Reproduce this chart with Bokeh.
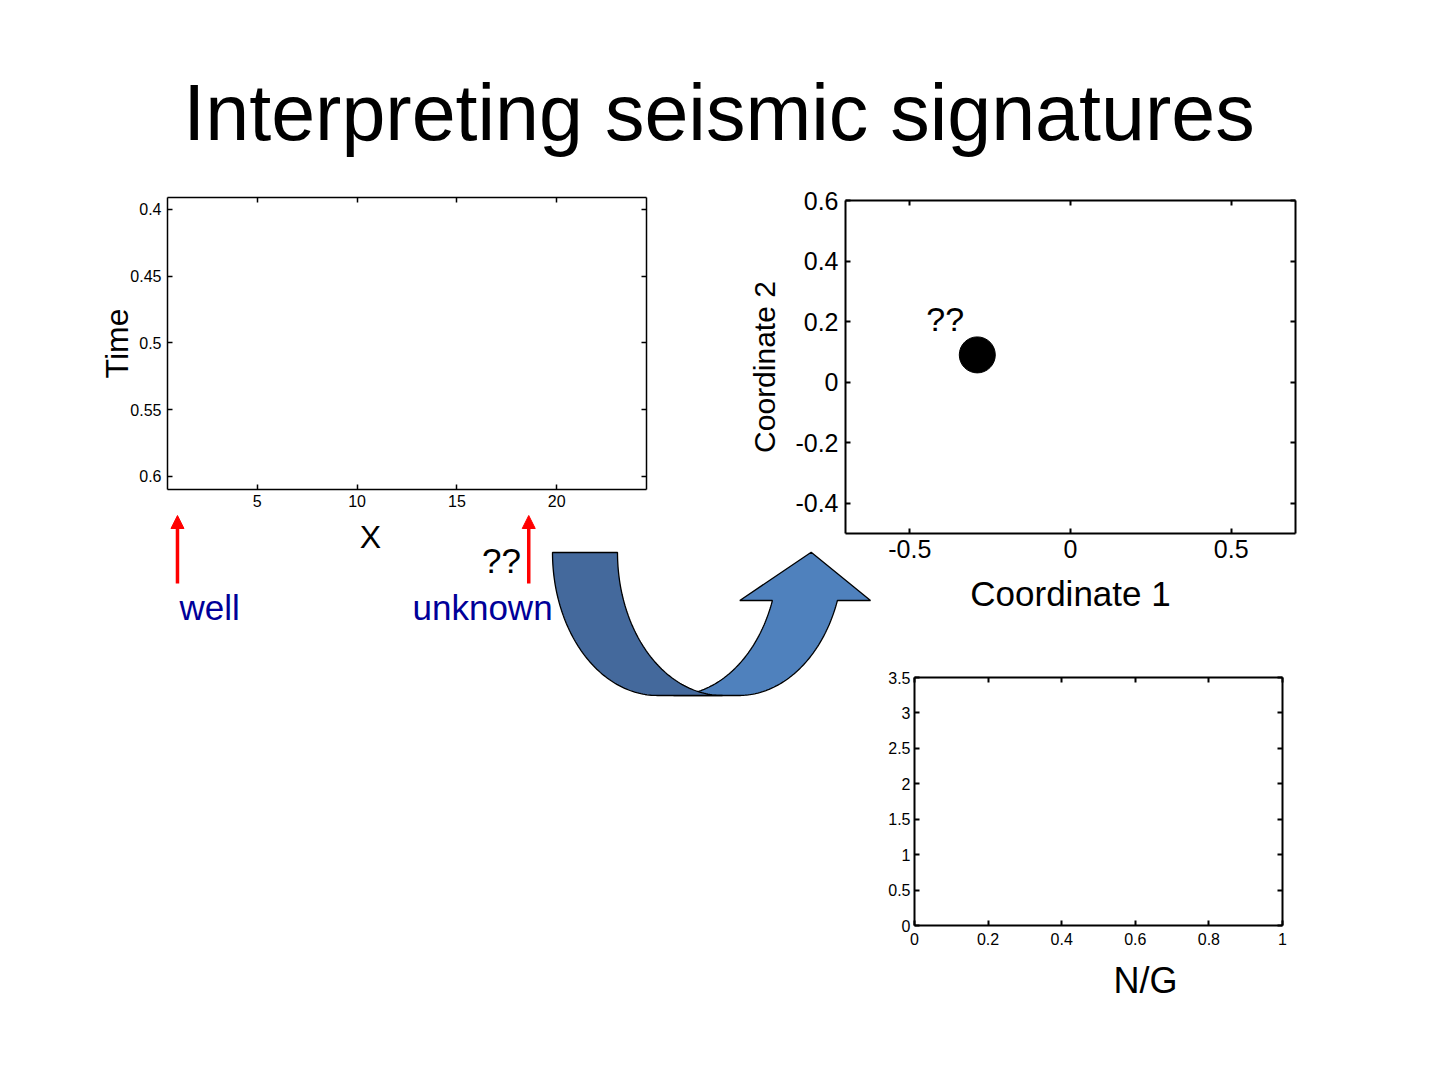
import numpy as np
from bokeh.plotting import figure
from bokeh.models import (Range1d, FixedTicker, LinearAxis, Arrow, NormalHead,
                          ColumnDataSource, GridBox)
from bokeh.core.properties import value
from bokeh.embed import file_html
from bokeh.resources import INLINE

# ---------------- data ----------------
TITLE = "Interpreting seismic signatures"

# panel 1 : seismic section (Time vs X)
P1_XTICKS = [5, 10, 15, 20]
P1_YTICKS = [0.4, 0.45, 0.5, 0.55, 0.6]
P1_XRANGE = (0.5, 24.5)
P1_YRANGE = (0.6098, 0.3912)          # reversed: time grows downward
WELL_X = [1.0]                         # trace index of the well
UNKNOWN_X = [18.6]                     # trace index of the unknown location

# panel 2 : 2-D projection of seismic attributes
P2_XTICKS = [-0.5, 0, 0.5]
P2_YTICKS = [-0.4, -0.2, 0, 0.2, 0.4, 0.6]
P2_XRANGE = (-0.7, 0.7)
P2_YRANGE = (-0.5, 0.6)
POINT_C1 = [-0.29]
POINT_C2 = [0.09]

# panel 3 : N/G distribution (empty)
P3_XTICKS = [0, 0.2, 0.4, 0.6, 0.8, 1]
P3_YTICKS = [0, 0.5, 1, 1.5, 2, 2.5, 3, 3.5]
P3_XRANGE = (0, 1)
P3_YRANGE = (0, 3.5)

# ---------------- page geometry ----------------
W, H = 1424, 1060
FONT = "Liberation Sans"


def bl(y, fs):
    """shift so that the glyph baseline lands on y"""
    return y - 0.37 * fs


def panel(left, top, right, bottom, xr, yr, axes=True):
    kw = dict(width=W, height=H, x_range=Range1d(*xr), y_range=Range1d(*yr),
              toolbar_location=None, output_backend="svg",
              min_border_left=left, min_border_top=top,
              min_border_right=W - right, min_border_bottom=H - bottom,
              background_fill_color=None, border_fill_color=None,
              outline_line_color=None, frame_align=False)
    if not axes:
        kw.update(x_axis_type=None, y_axis_type=None)
    p = figure(**kw)
    p.grid.visible = False
    return p


def style(ax, ticks, fs, standoff, lw, labels=True):
    ax.ticker = FixedTicker(ticks=ticks)
    ax.major_tick_in = 5
    ax.major_tick_out = 0
    ax.minor_tick_line_color = None
    ax.axis_line_width = lw
    ax.axis_line_color = "black"
    ax.major_tick_line_width = lw
    ax.major_tick_line_color = "black"
    ax.major_label_text_font = FONT
    ax.major_label_text_font_size = fs
    ax.major_label_text_color = "black"
    ax.major_label_standoff = standoff
    ax.major_label_overrides = {t: (f"{t:g}" if labels else "") for t in ticks}


def boxed(p, xt, yt, fs, sx, sy, lw):
    style(p.below[0], xt, fs, sx, lw)
    style(p.left[0], yt, fs, sy, lw)
    top = LinearAxis()
    right = LinearAxis()
    p.add_layout(top, "above")
    p.add_layout(right, "right")
    style(top, xt, fs, 0, lw, labels=False)
    style(right, yt, fs, 0, lw, labels=False)


def axis_label(ax, text, fs, standoff):
    ax.axis_label = text
    ax.axis_label_text_font = FONT
    ax.axis_label_text_font_size = fs
    ax.axis_label_text_font_style = "normal"
    ax.axis_label_text_color = "black"
    ax.axis_label_standoff = standoff


# ---------------- background canvas (page pixel coordinates) ----------------
canvas = figure(width=W, height=H, x_range=Range1d(0, W), y_range=Range1d(H, 0),
                x_axis_type=None, y_axis_type=None, min_border=0,
                toolbar_location=None, output_backend="svg",
                background_fill_color="white", border_fill_color="white",
                outline_line_color=None, frame_align=False)
canvas.grid.visible = False

canvas.text(x=[718.5], y=[bl(141, 79)], text=[TITLE], text_font=value(FONT),
            text_font_size="79px", text_align="center",
            text_baseline="alphabetic", text_color="black")

# curved "U-turn" arrow (two elliptical ribbons)
Y0, RX, RY = 552, 105, 143


def arc(cx, sign, t0, t1, n=80):
    t = np.radians(np.linspace(t0, t1, n))
    return cx + sign * RX * np.cos(t), Y0 + RY * np.sin(t)


t_top = np.degrees(np.arcsin((600 - Y0) / RY))
ox, oy = arc(738, 1, 90, t_top)
ix, iy = arc(673, 1, t_top, 90)
light_x = list(ox) + [870, 810.7, 739.3] + list(ix)
light_y = list(oy) + [600, 551.7, 600] + list(iy)

dox, doy = arc(657, -1, 0, 90)
dix, diy = arc(722, -1, 90, 0)
dark_x = list(dox) + list(dix)
dark_y = list(doy) + list(diy)

canvas.patches(xs=[light_x, dark_x], ys=[light_y, dark_y],
               fill_color=["#4f81bd", "#44699c"], line_color="black",
               line_width=1.3)

# annotations around the section
canvas.text(x=[179, 412], y=[bl(620, 35)] * 2, text=["well", "unknown"],
            text_font=value(FONT), text_font_size="35px",
            text_align="left", text_baseline="alphabetic", text_color="#000099")
canvas.text(x=[501], y=[bl(573, 35)], text=["??"], text_font=value(FONT),
            text_font_size="35px", text_align="center",
            text_baseline="alphabetic", text_color="black")
canvas.text(x=[370], y=[bl(548, 32)], text=["X"], text_font=value(FONT),
            text_font_size="32px", text_align="center",
            text_baseline="alphabetic", text_color="black")
canvas.text(x=[1145], y=[bl(993, 36)], text=["N/G"], text_font=value(FONT),
            text_font_size="36px", text_align="center",
            text_baseline="alphabetic", text_color="black")

# ---------------- panel 1 ----------------
p1 = panel(167, 197, 646, 489, P1_XRANGE, P1_YRANGE)
boxed(p1, P1_XTICKS, P1_YTICKS, "16px", 5, 6, 1.5)
axis_label(p1.left[0], "Time", "32px", -8)

# red arrows pointing at well / unknown trace, on panel-1's x scale
marks = panel(167, 498, 646, 648, P1_XRANGE, (648, 498), axes=False)
src = ColumnDataSource(dict(x=WELL_X + UNKNOWN_X, y0=[583, 583], y1=[515, 515]))
marks.add_layout(Arrow(end=NormalHead(size=13, fill_color="red", line_color="red",
                                      line_width=1),
                       source=src, x_start="x", y_start="y0", x_end="x", y_end="y1",
                       line_color="red", line_width=3.5))

# ---------------- panel 2 ----------------
p2 = panel(845, 200, 1295, 533, P2_XRANGE, P2_YRANGE)
boxed(p2, P2_XTICKS, P2_YTICKS, "25px", 6, 7, 2)
axis_label(p2.below[0], "Coordinate 1", "35px", 13)
axis_label(p2.left[0], "Coordinate 2", "30px", 11)
p2.scatter(x=POINT_C1, y=POINT_C2, size=36, color="black")
p2.text(x=[-0.39], y=[0.208], text=["??"], text_font=value(FONT),
        text_font_size="34px", text_align="center", text_baseline="alphabetic",
        text_color="black")

# ---------------- panel 3 ----------------
p3 = panel(914, 677, 1282, 925, P3_XRANGE, P3_YRANGE)
boxed(p3, P3_XTICKS, P3_YTICKS, "16px", 7, 4, 2)

layout = GridBox(children=[(canvas, 0, 0), (p1, 0, 0), (marks, 0, 0),
                           (p2, 0, 0), (p3, 0, 0)])

open("out.html", "w").write(file_html(layout, INLINE))
